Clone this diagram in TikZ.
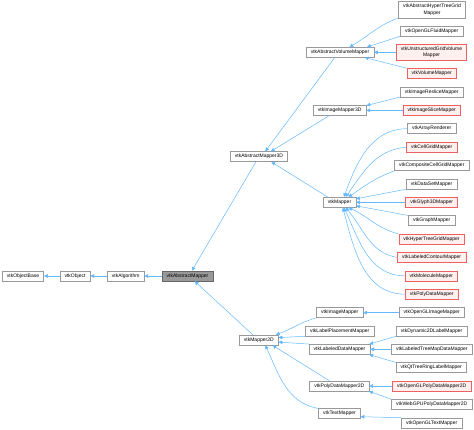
\documentclass[tikz,border=0pt]{standalone}
\usepackage{fontspec}
\setmainfont{Liberation Sans}
\usetikzlibrary{arrows.meta}
\definecolor{edgeblue}{HTML}{63B8FF}
\definecolor{boxgray}{HTML}{999999}
\definecolor{redline}{HTML}{F06060}
\definecolor{redfill}{HTML}{FFF0F0}
\begin{document}
\begin{tikzpicture}[x=1pt, y=-1pt,
	cls/.style={draw=boxgray, fill=white, line width=0.5pt, font=\fontsize{5}{6.5}\selectfont, align=center, inner xsep=4.6pt, inner ysep=2.5pt, minimum height=10pt},
	clsred/.style={cls, draw=redline, fill=redfill},
	clsfocus/.style={cls, draw=black!60, fill=boxgray},
	inh/.style={draw=edgeblue, line width=0.5pt, -{Triangle[length=3.8pt,width=3.6pt]}}]
	\useasboundingbox (0,0) rectangle (474,430);
	% base chain
	\node[cls] (objbase) at (23,276) {vtkObjectBase};
	\node[cls] (obj) at (75,276) {vtkObject};
	\node[cls] (alg) at (125.7,276) {vtkAlgorithm};
	\node[clsfocus] (absmap) at (187.5,276) {vtkAbstractMapper};
	\node[cls] (am3d) at (259,156.7) {vtkAbstractMapper3D};
	\node[cls] (m2d) at (258.8,340) {vtkMapper2D};
	% 3D branch
	\node[cls] (avm) at (340,52.3) {vtkAbstractVolumeMapper};
	\node[cls] (im3d) at (339.7,110.3) {vtkImageMapper3D};
	\node[cls] (mapper) at (339.5,202.3) {vtkMapper};
	\node[cls] (htgvm) at (432,9.7) {vtkAbstractHyperTreeGrid\\Mapper};
	\node[cls] (fluid) at (431.7,31) {vtkOpenGLFluidMapper};
	\node[clsred] (ugvm) at (431.5,52.3) {vtkUnstructuredGridVolume\\Mapper};
	\node[clsred] (volmap) at (431.7,73.5) {vtkVolumeMapper};
	\node[cls] (reslice) at (431.7,91.8) {vtkImageResliceMapper};
	\node[clsred] (slice) at (431.7,110.3) {vtkImageSliceMapper};
	\node[cls] (arrayren) at (431.7,128.7) {vtkArrayRenderer};
	\node[clsred] (cellgrid) at (431.7,147.2) {vtkCellGridMapper};
	\node[cls] (compcell) at (431.8,165.7) {vtkCompositeCellGridMapper};
	\node[cls] (dataset) at (431.7,184) {vtkDataSetMapper};
	\node[clsred] (glyph) at (431.7,202.3) {vtkGlyph3DMapper};
	\node[cls] (graph) at (431.7,220.7) {vtkGraphMapper};
	\node[clsred] (htgmap) at (431.5,239.2) {vtkHyperTreeGridMapper};
	\node[clsred] (labcont) at (431.7,257.5) {vtkLabeledContourMapper};
	\node[clsred] (molecule) at (431.3,275.8) {vtkMoleculeMapper};
	\node[clsred] (polydata) at (431.7,294.2) {vtkPolyDataMapper};
	% 2D branch
	\node[cls] (immap) at (339.7,312.7) {vtkImageMapper};
	\node[cls] (labplace) at (339.7,331) {vtkLabelPlacementMapper};
	\node[cls] (labdata) at (339.5,349.3) {vtkLabeledDataMapper};
	\node[cls] (pdm2d) at (339.3,386) {vtkPolyDataMapper2D};
	\node[cls] (textmap) at (339.5,413.7) {vtkTextMapper};
	\node[cls] (glimage) at (431.7,312.7) {vtkOpenGLImageMapper};
	\node[cls] (dyn2d) at (431.7,331) {vtkDynamic2DLabelMapper};
	\node[cls] (treemap) at (431.8,349.3) {vtkLabeledTreeMapDataMapper};
	\node[cls] (qtring) at (431.3,367.7) {vtkQtTreeRingLabelMapper};
	\node[clsred] (glpdm2d) at (431.7,386) {vtkOpenGLPolyDataMapper2D};
	\node[cls] (webgpu) at (431.7,404.5) {vtkWebGPUPolyDataMapper2D};
	\node[cls] (gltext) at (431.7,423) {vtkOpenGLTextMapper};

	\draw[inh] (obj) -- (objbase);
	\draw[inh] (alg) -- (obj);
	\draw[inh] (absmap) -- (alg);
	\draw[inh] (am3d.-121) -- (absmap.50);
	\draw[inh] (m2d.139) -- (absmap.-36);

	\draw[inh] (avm.-135) -- (am3d.40);
	\draw[inh] (im3d.-153) -- (am3d.24);
	\draw[inh] (mapper.156) -- (am3d.-23);

	\draw[inh] (htgvm.south west) to[out=200,in=30] (avm.29);
	\draw[inh] (fluid.south west) -- (avm.11);
	\draw[inh] (ugvm) -- (avm);
	\draw[inh] (volmap.north west) -- (avm.-12);
	\draw[inh] (reslice.south west) -- (im3d.10);
	\draw[inh] (slice) -- (im3d);

	\draw[inh] (arrayren.west) to[out=180,in=70] (mapper.50);
	\draw[inh] (cellgrid.west) to[out=185,in=55] (mapper.40);
	\draw[inh] (compcell.south west) to[out=200,in=35] (mapper.30);
	\draw[inh] (dataset.south west) -- (mapper.12);
	\draw[inh] (glyph) -- (mapper);
	\draw[inh] (graph.north west) -- (mapper.-12);
	\draw[inh] (htgmap.north west) to[out=165,in=-25] (mapper.-30);
	\draw[inh] (labcont.west) to[out=170,in=-50] (mapper.-40);
	\draw[inh] (molecule.west) to[out=180,in=-65] (mapper.-50);
	\draw[inh] (polydata.west) to[out=180,in=-75] (mapper.-58);

	\draw[inh] (immap.south west) to[out=195,in=20] (m2d.17);
	\draw[inh] (labplace.south west) -- (m2d.7);
	\draw[inh] (labdata.north west) -- (m2d.-6);
	\draw[inh] (pdm2d.152) -- (m2d.-21);
	\draw[inh] (textmap.north west) to[out=170,in=-65] (m2d.-39);

	\draw[inh] (glimage) -- (immap);
	\draw[inh] (dyn2d.south west) -- (labdata.10);
	\draw[inh] (treemap) -- (labdata);
	\draw[inh] (qtring.north west) -- (labdata.-10);
	\draw[inh] (glpdm2d) -- (pdm2d);
	\draw[inh] (webgpu.north west) -- (pdm2d.-10);
	\draw[inh] (gltext.north west) -- (textmap.-8);
\end{tikzpicture}
\end{document}
